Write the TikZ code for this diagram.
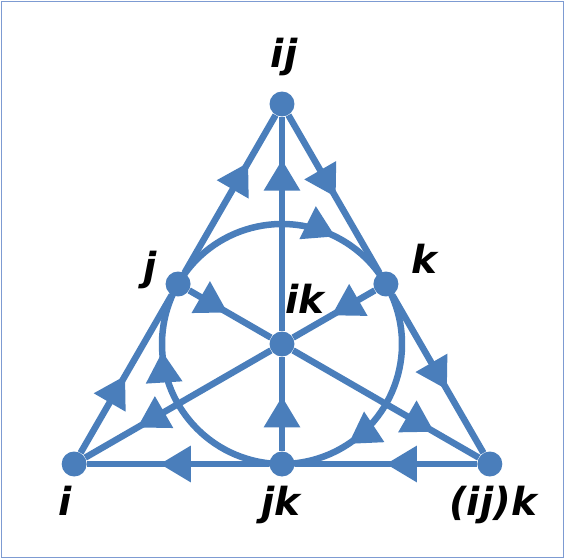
\documentclass[tikz,border=0pt]{standalone}
\usepackage{fontspec}
\setmainfont{DejaVu Sans}
\usetikzlibrary{positioning,arrows.meta,decorations.markings}
\definecolor{fanoblue}{RGB}{74,126,187}
\definecolor{framecol}{RGB}{125,155,210}

\begin{document}
\begin{tikzpicture}[x=0.02cm,y=0.02cm]

\tikzstyle{vtx} = [circle, fill=fanoblue, inner sep=0pt, minimum size=0.5cm]

\tikzstyle{fano} = [draw=fanoblue, line width=0.13cm]

\tikzstyle{lbl} = [font=\fontsize{22}{26}\selectfont\bfseries\itshape, inner sep=0pt]

\tikzstyle{arr} = [postaction={decorate, decoration={markings, mark=at position #1 with {\arrow{Triangle[length=0.62cm,width=0.7cm]}}}}]

    \useasboundingbox (0,0) rectangle (565,559);
    \draw [framecol, line width=0.03cm] (1.5,1.5) rectangle (563.5,557.5);

    \coordinate (O) at (282,215);
    \node [vtx] (ik) at (O) {};
    \path (O) ++(90:240) node [vtx] (ij) {};
    \path (O) ++(210:240) node [vtx] (i) {};
    \path (O) ++(330:240) node [vtx] (ijk) {};
    \path (O) ++(150:120) node [vtx] (j) {};
    \path (O) ++(30:120) node [vtx] (k) {};
    \path (O) ++(270:120) node [vtx] (jk) {};

    \node [lbl, anchor=base] (lij) at (284,491) {ij};
    \node [lbl, anchor=base east] (lj) at (157,279) {j};
    \node [lbl, anchor=base west] (lk) at (411,286) {k};
    \node [lbl, anchor=base west] (lik) at (285,246) {ik};
    \node [lbl, anchor=base] (li) at (65,44) {i};
    \node [lbl, anchor=base] (ljk) at (281,44) {jk};
    \node [lbl, anchor=base] (lijk) at (493,44) {(ij)k};

    \draw [fano, arr=0.49] (i) -- (j);
    \draw [fano, arr=0.7] (j) -- (ij);
    \draw [fano, arr=0.52] (ij) -- (k);
    \draw [fano, arr=0.6] (k) -- (ijk);
    \draw [fano, arr=0.5] (ijk) -- (jk);
    \draw [fano, arr=0.6] (jk) -- (i);
    \draw [fano, arr=0.58] (jk) -- (ik);
    \draw [fano, arr=0.8] (ik) -- (ij);
    \draw [fano, arr=0.47] (j) -- (ik);
    \draw [fano, arr=0.53] (k) -- (ik);
    \draw [fano, arr=0.76] (ik) -- (ijk);
    \draw [fano, arr=0.72] (ik) -- (i);

    \draw [fano, arr=0.72] (j.center) arc [start angle=150, end angle=30, radius=120];
    \draw [fano, arr=0.72] (k.center) arc [start angle=30, end angle=-90, radius=120];
    \draw [fano, arr=0.72] (jk.center) arc [start angle=270, end angle=150, radius=120];

\end{tikzpicture}
\end{document}
